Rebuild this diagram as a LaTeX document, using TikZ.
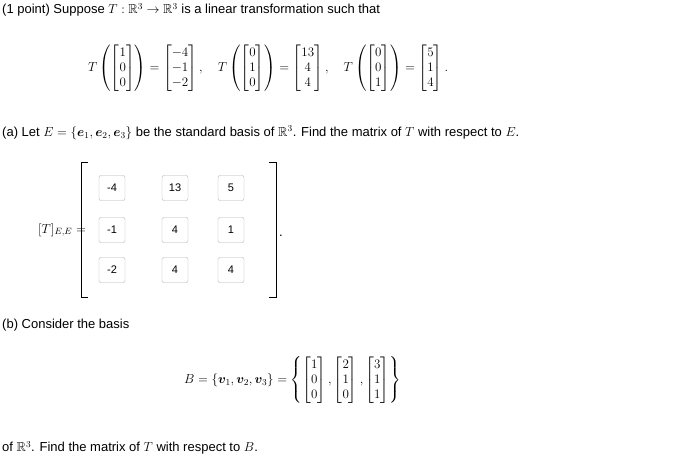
\RequirePackage{fix-cm}
\documentclass[tikz,border=0pt]{standalone}
\usepackage{amsmath,amssymb,bm}
\usepackage{fontspec}
\setmainfont{Liberation Sans}
\tikzset{prose/.style={anchor=west,inner sep=0pt,font=\fontsize{13}{15}\selectfont},
 mathn/.style={inner sep=0pt,font=\fontsize{13}{15}\selectfont},
 ibox/.style={draw=black!30,rounded corners=2pt,minimum width=26pt,minimum height=25pt,inner sep=0pt,font=\fontsize{11}{13}\selectfont}}
\begin{document}
\begin{tikzpicture}[x=1pt,y=-1pt]
\useasboundingbox[fill=white] (0,0) rectangle (700,466);
\node[prose] (l1) at (2,10) {(1 point) Suppose $T:\mathbb{R}^3\to\mathbb{R}^3$ is a linear transformation such that};
\node[mathn,anchor=west] (eq) at (88,68) {$\displaystyle
T\left(\begin{bmatrix}1\\0\\0\end{bmatrix}\right)=\begin{bmatrix}-4\\-1\\-2\end{bmatrix},\quad
T\left(\begin{bmatrix}0\\1\\0\end{bmatrix}\right)=\begin{bmatrix}13\\4\\4\end{bmatrix},\quad
T\left(\begin{bmatrix}0\\0\\1\end{bmatrix}\right)=\begin{bmatrix}5\\1\\4\end{bmatrix}.$};
\node[prose] (la) at (2,133) {(a) Let $E=\{\bm{e}_1,\bm{e}_2,\bm{e}_3\}$ be the standard basis of $\mathbb{R}^3$. Find the matrix of $T$ with respect to $E$.};
\node[mathn,anchor=west] (te) at (38,230) {$[T]_{E,E}=$};
\draw[line width=0.6pt] (88,162) -- (81,162) -- (81,297) -- (88,297);
\draw[line width=0.6pt] (269,162) -- (276,162) -- (276,297) -- (269,297);
\node[ibox] (a11) at (112,188) {-4};
\node[ibox] (a12) at (175,188) {13};
\node[ibox] (a13) at (231,188) {5};
\node[ibox] (a21) at (112,230) {-1};
\node[ibox] (a22) at (175,230) {4};
\node[ibox] (a23) at (231,230) {1};
\node[ibox] (a31) at (112,270) {-2};
\node[ibox] (a32) at (175,270) {4};
\node[ibox] (a33) at (231,270) {4};
\node[mathn] (dot) at (281,236) {.};
\node[prose] (lb) at (2,325) {(b) Consider the basis};
\node[mathn,anchor=west] (bb) at (184,380) {$\displaystyle B=\{\bm{v}_1,\bm{v}_2,\bm{v}_3\}=\left\{\begin{bmatrix}1\\0\\0\end{bmatrix},\begin{bmatrix}2\\1\\0\end{bmatrix},\begin{bmatrix}3\\1\\1\end{bmatrix}\right\}$};
\node[prose] (lc) at (2,448) {of $\mathbb{R}^3$. Find the matrix of $T$ with respect to $B$.};
\end{tikzpicture}
\end{document}
